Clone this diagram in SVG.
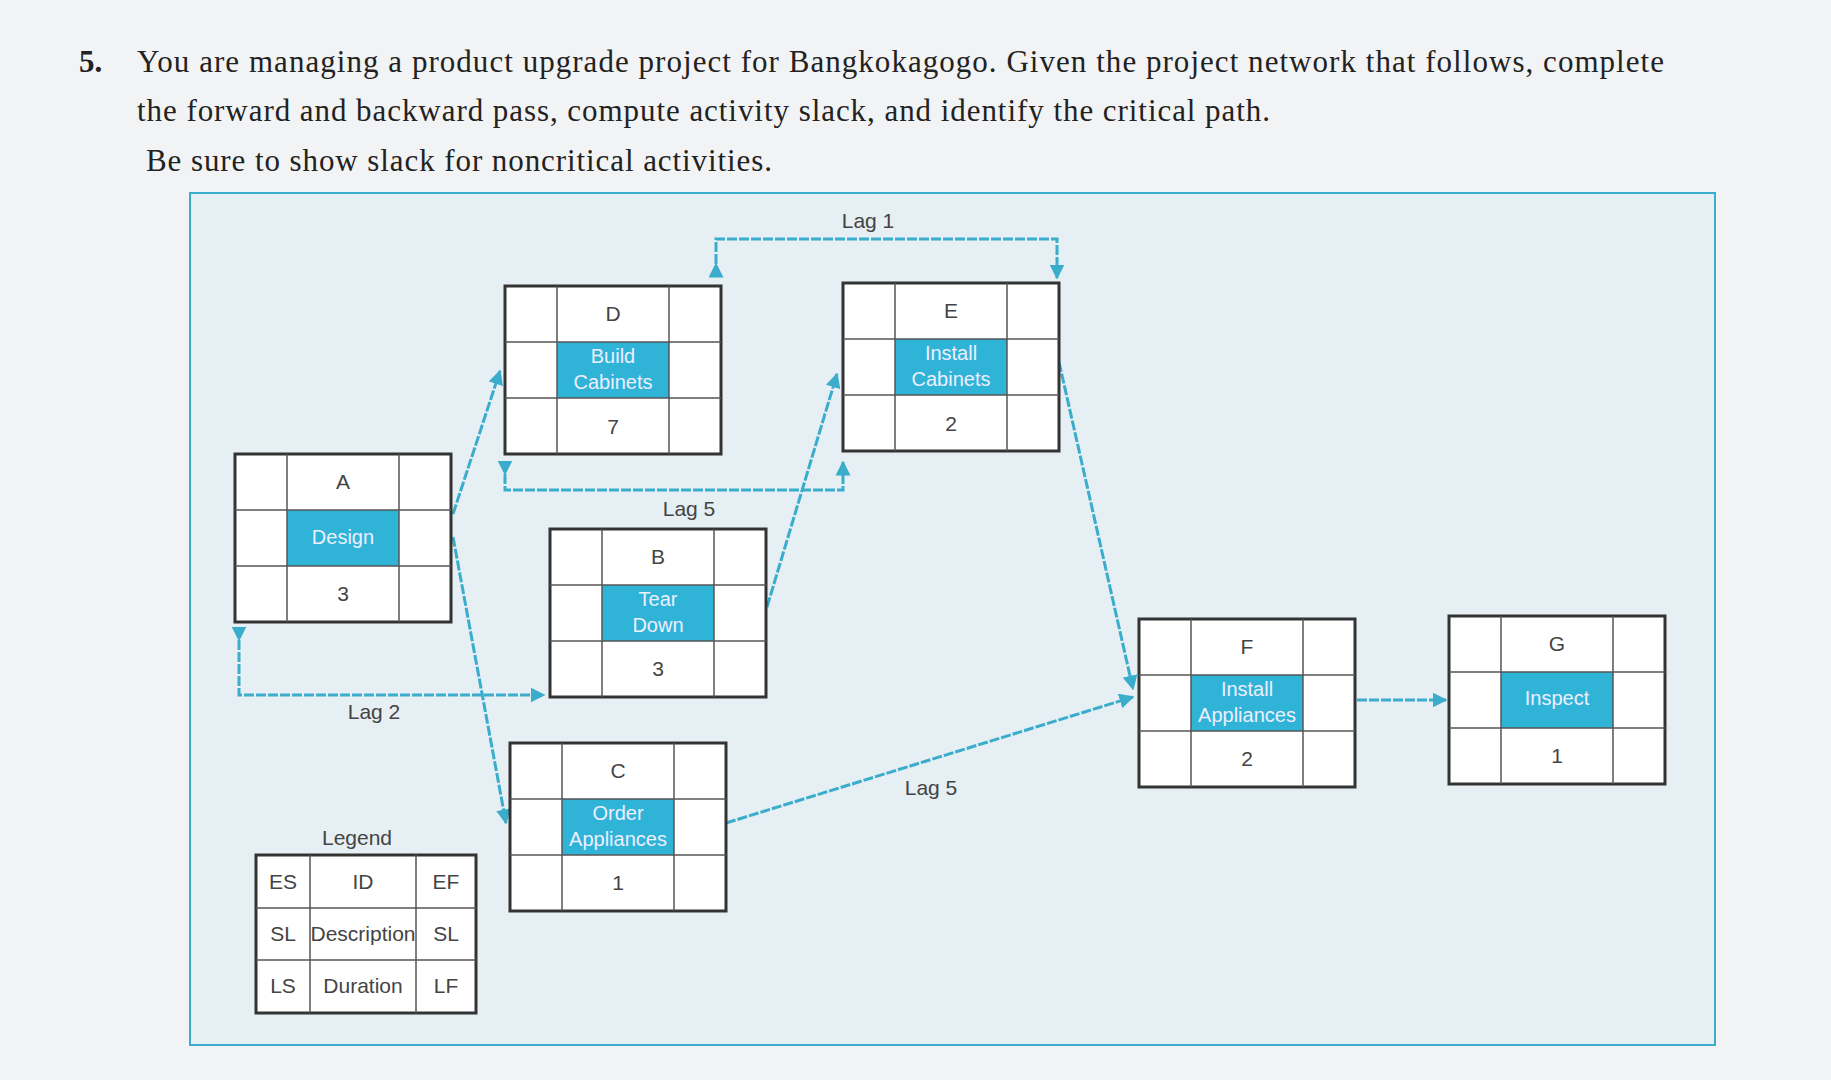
<svg xmlns="http://www.w3.org/2000/svg" width="1831" height="1080" viewBox="0 0 1831 1080">
<defs>
<style>
.t{font-family:"Liberation Serif",serif;font-size:31px;fill:#222}
.n{font-family:"Liberation Sans",sans-serif;font-size:21px;fill:#444;text-anchor:middle}
.w{font-family:"Liberation Sans",sans-serif;font-size:20px;fill:#eef;text-anchor:middle}
.box{fill:#fff;stroke:#333;stroke-width:3}
.g{stroke:#555;stroke-width:1.5}
.hl{fill:#2fb4d8}
.c{fill:none;stroke:#3aaccc;stroke-width:3;stroke-dasharray:10 2}
</style>
<marker id="ar" viewBox="0 0 10 10" refX="9" refY="5" markerWidth="5" markerHeight="5" orient="auto"><path d="M0,0L10,5L0,10z" fill="#3aaccc"/></marker>
<marker id="as" viewBox="0 0 10 10" refX="1" refY="5" markerWidth="5" markerHeight="5" orient="auto"><path d="M0,0L10,5L0,10z" fill="#3aaccc"/></marker>
<g id="cell">
<rect class="box" x="0" y="0" width="216" height="168"/>
<rect class="hl" x="52" y="56" width="112" height="56"/>
<path class="g" d="M52 0V168M164 0V168M0 56H216M0 112H216"/>
</g>
</defs>
<rect width="1831" height="1080" fill="#f2f3f4"/>
<text class="t" x="79" y="72"><tspan font-weight="bold">5.</tspan></text>
<text class="t" x="137" y="72" textLength="1527" lengthAdjust="spacing">You are managing a product upgrade project for Bangkokagogo. Given the project network that follows, complete</text>
<text class="t" x="137" y="121" textLength="1133" lengthAdjust="spacing">the forward and backward pass, compute activity slack, and identify the critical path.</text>
<text class="t" x="146" y="171" textLength="626" lengthAdjust="spacing">Be sure to show slack for noncritical activities.</text>
<rect x="190" y="193" width="1525" height="852" fill="#e6eff3" stroke="#3aaccc" stroke-width="2"/>
<g id="connectors">
<path class="c" d="M716 276V239H1057V278" marker-start="url(#as)" marker-end="url(#ar)"/>
<path class="c" d="M505 462V490H843V462" marker-start="url(#as)" marker-end="url(#ar)"/>
<path class="c" d="M453 514L500 371" marker-end="url(#ar)"/>
<path class="c" d="M453 537L506 823" marker-end="url(#ar)"/>
<path class="c" d="M239 628V695H544" marker-start="url(#as)" marker-end="url(#ar)"/>
<path class="c" d="M767 607L837 374" marker-end="url(#ar)"/>
<path class="c" d="M1059 362L1133 689" marker-end="url(#ar)"/>
<path class="c" d="M726 823L1133 697" marker-end="url(#ar)"/>
<path class="c" d="M1357 700H1446" marker-end="url(#ar)"/>
<text class="n" x="868" y="228">Lag 1</text>
<text class="n" x="689" y="516">Lag 5</text>
<text class="n" x="374" y="719">Lag 2</text>
<text class="n" x="931" y="795">Lag 5</text>
</g>
<g id="D"><use href="#cell" x="505" y="286"/><text class="n" x="613" y="321">D</text><text class="w" x="613" y="363">Build</text><text class="w" x="613" y="389">Cabinets</text><text class="n" x="613" y="434">7</text></g>
<g id="E"><use href="#cell" x="843" y="283"/><text class="n" x="951" y="318">E</text><text class="w" x="951" y="360">Install</text><text class="w" x="951" y="386">Cabinets</text><text class="n" x="951" y="431">2</text></g>
<g id="A"><use href="#cell" x="235" y="454"/><text class="n" x="343" y="489">A</text><text class="w" x="343" y="544">Design</text><text class="n" x="343" y="601">3</text></g>
<g id="B"><use href="#cell" x="550" y="529"/><text class="n" x="658" y="564">B</text><text class="w" x="658" y="606">Tear</text><text class="w" x="658" y="632">Down</text><text class="n" x="658" y="676">3</text></g>
<g id="C"><use href="#cell" x="510" y="743"/><text class="n" x="618" y="778">C</text><text class="w" x="618" y="820">Order</text><text class="w" x="618" y="846">Appliances</text><text class="n" x="618" y="890">1</text></g>
<g id="F"><use href="#cell" x="1139" y="619"/><text class="n" x="1247" y="654">F</text><text class="w" x="1247" y="696">Install</text><text class="w" x="1247" y="722">Appliances</text><text class="n" x="1247" y="766">2</text></g>
<g id="G"><use href="#cell" x="1449" y="616"/><text class="n" x="1557" y="651">G</text><text class="w" x="1557" y="705">Inspect</text><text class="n" x="1557" y="763">1</text></g>
<g id="legend">
<text class="n" x="357" y="845">Legend</text>
<rect class="box" x="256" y="855" width="220" height="158"/>
<path class="g" d="M310 855V1013M416 855V1013M256 908H476M256 960H476"/>
<text class="n" x="283" y="889">ES</text><text class="n" x="363" y="889">ID</text><text class="n" x="446" y="889">EF</text>
<text class="n" x="283" y="941">SL</text><text class="n" x="363" y="941" font-size="17">Description</text><text class="n" x="446" y="941">SL</text>
<text class="n" x="283" y="993">LS</text><text class="n" x="363" y="993">Duration</text><text class="n" x="446" y="993">LF</text>
</g>
</svg>
